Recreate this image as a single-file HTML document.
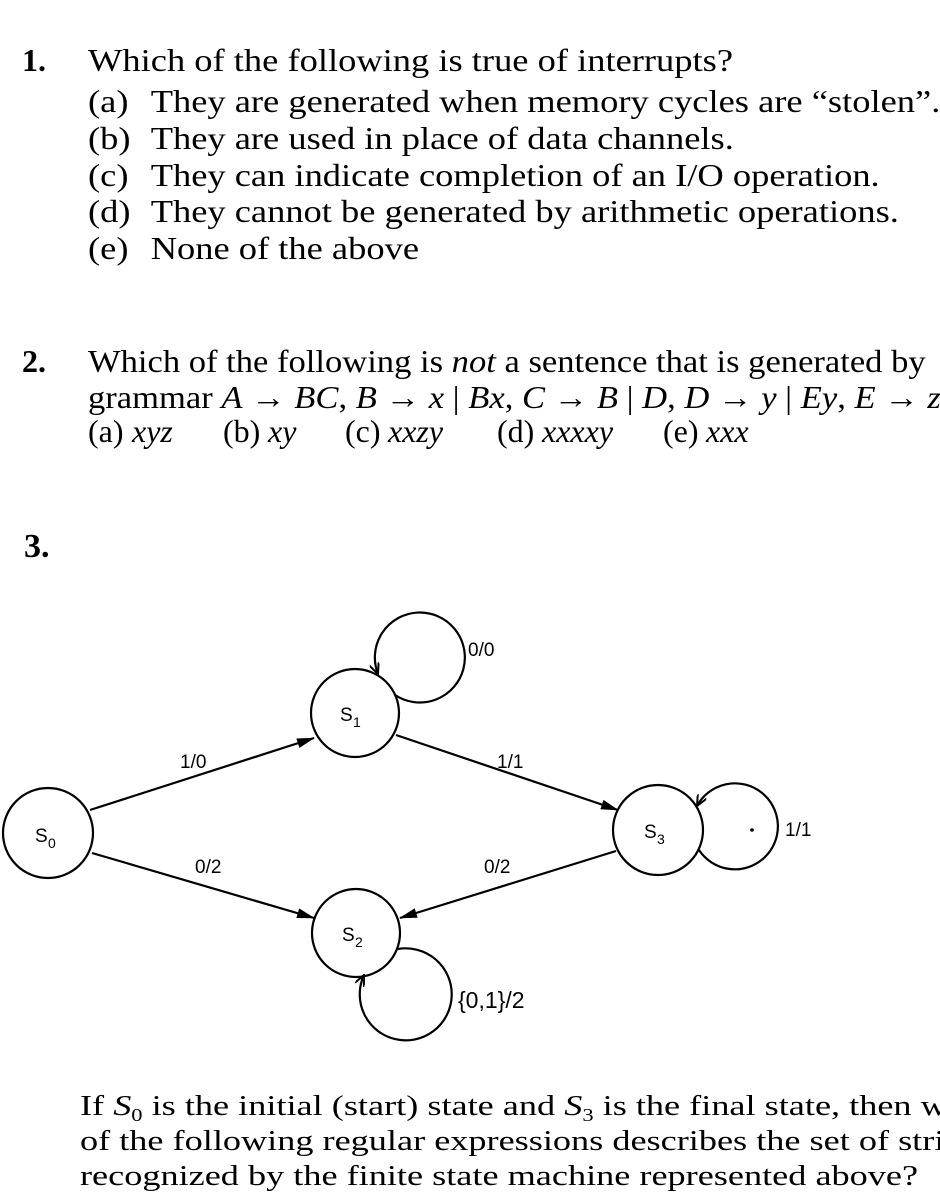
<!DOCTYPE html>
<html><head><meta charset="utf-8"><style>
html,body{margin:0;padding:0;background:#fff;width:940px;height:1195px;overflow:hidden}
svg{display:block}
.t{font-family:"Liberation Serif",serif;font-size:32px;fill:#000}
.b{font-weight:bold}
.i{font-style:italic}
.lb{font-family:"Liberation Sans",sans-serif;font-size:19px;fill:#000}
</style></head><body>
<svg width="940" height="1195" viewBox="0 0 940 1195" xmlns="http://www.w3.org/2000/svg">
<defs><marker id="ah" markerWidth="18" markerHeight="12" refX="17" refY="6" orient="auto" markerUnits="userSpaceOnUse"><path d="M0,1 L18,6 L0,11 Z" fill="#000"/></marker>
<marker id="sa" markerWidth="12" markerHeight="10" refX="11" refY="5" orient="auto" markerUnits="userSpaceOnUse"><path d="M0,0 L11,5 L0,10" fill="none" stroke="#000" stroke-width="2"/></marker></defs>

<text class="t b" x="22" y="71">1.</text>
<g transform="translate(88,0) scale(1.14,1) translate(-88,0)">
<text class="t" x="88" y="71">Which of the following is true of interrupts?</text>
<text class="t" x="88" y="112">(a)</text><text class="t" x="143" y="112">They are generated when memory cycles are “stolen”.</text>
<text class="t" x="88" y="149">(b)</text><text class="t" x="143" y="149">They are used in place of data channels.</text>
<text class="t" x="88" y="186">(c)</text><text class="t" x="143" y="186">They can indicate completion of an I/O operation.</text>
<text class="t" x="88" y="222">(d)</text><text class="t" x="143" y="222">They cannot be generated by arithmetic operations.</text>
<text class="t" x="88" y="259">(e)</text><text class="t" x="143" y="259">None of the above</text>
</g>

<text class="t b" x="22" y="372">2.</text>
<g transform="translate(88,0) scale(1.08,1) translate(-88,0)">
<text class="t" x="88" y="372">Which of the following is <tspan class="i">not</tspan> a sentence that is generated by</text>
<text class="t" x="88" y="408">grammar <tspan class="i">A</tspan> → <tspan class="i">BC</tspan>, <tspan class="i">B</tspan> → <tspan class="i">x</tspan> | <tspan class="i">Bx</tspan>, <tspan class="i">C</tspan> → <tspan class="i">B</tspan> | <tspan class="i">D</tspan>, <tspan class="i">D</tspan> → <tspan class="i">y</tspan> | <tspan class="i">Ey</tspan>, <tspan class="i">E</tspan> → <tspan class="i">z</tspan></text>
</g>
<text class="t" x="88" y="442">(a)</text><text class="t i" x="132" y="442">xyz</text>
<text class="t" x="223" y="442">(b)</text><text class="t i" x="268" y="442">xy</text>
<text class="t" x="345" y="442">(c)</text><text class="t i" x="388" y="442">xxzy</text>
<text class="t" x="497" y="442">(d)</text><text class="t i" x="542" y="442">xxxxy</text>
<text class="t" x="663" y="442">(e)</text><text class="t i" x="706" y="442">xxx</text>

<text class="t b" x="24" y="557" style="font-size:34px">3.</text>

<g fill="none" stroke="#000" stroke-width="2.2">
<circle cx="48" cy="833" r="45"/>
<circle cx="355" cy="713" r="44"/>
<circle cx="356" cy="933" r="44"/>
<circle cx="658" cy="830" r="45"/>
<path d="M395,695 A45,45 0 1 0 378,674" marker-end="url(#sa)"/>
<path d="M699,850 A43,43 0 1 0 697,806" marker-end="url(#sa)"/>
<path d="M398,949 A46,46 0 1 1 364,975" marker-end="url(#sa)"/>
<line x1="90" y1="810" x2="314" y2="738" marker-end="url(#ah)"/>
<line x1="396" y1="735" x2="618" y2="810" marker-end="url(#ah)"/>
<line x1="92" y1="853" x2="314" y2="918" marker-end="url(#ah)"/>
<line x1="616" y1="851" x2="400" y2="918" marker-end="url(#ah)"/>
</g>
<circle cx="752" cy="830" r="1.8" fill="#000"/>

<text class="lb" x="35" y="842">S</text><text class="lb" x="48" y="848" style="font-size:14px">0</text>
<text class="lb" x="340" y="721">S</text><text class="lb" x="353" y="727" style="font-size:14px">1</text>
<text class="lb" x="342" y="941">S</text><text class="lb" x="355" y="947" style="font-size:14px">2</text>
<text class="lb" x="644" y="838">S</text><text class="lb" x="657" y="844" style="font-size:14px">3</text>
<text class="lb" x="468" y="656">0/0</text>
<text class="lb" x="180" y="768">1/0</text>
<text class="lb" x="497" y="768">1/1</text>
<text class="lb" x="195" y="873">0/2</text>
<text class="lb" x="484" y="873">0/2</text>
<text class="lb" x="785" y="836">1/1</text>
<text class="lb" x="458" y="1008" style="font-size:23px">{0,1}/2</text>

<g transform="translate(80,0) scale(1.25,1) translate(-80,0)">
<text class="t" x="80" y="1115" style="font-size:29px">If <tspan class="i">S</tspan><tspan font-size="18" dy="6">0</tspan><tspan dy="-6"> is the initial (start) state and </tspan><tspan class="i">S</tspan><tspan font-size="18" dy="6">3</tspan><tspan dy="-6"> is the final state, then which</tspan></text>
<text class="t" x="80" y="1150" style="font-size:29px">of the following regular expressions describes the set of strings</text>
<text class="t" x="80" y="1185" style="font-size:29px">recognized by the finite state machine represented above?</text>
</g>
</svg>
</body></html>
